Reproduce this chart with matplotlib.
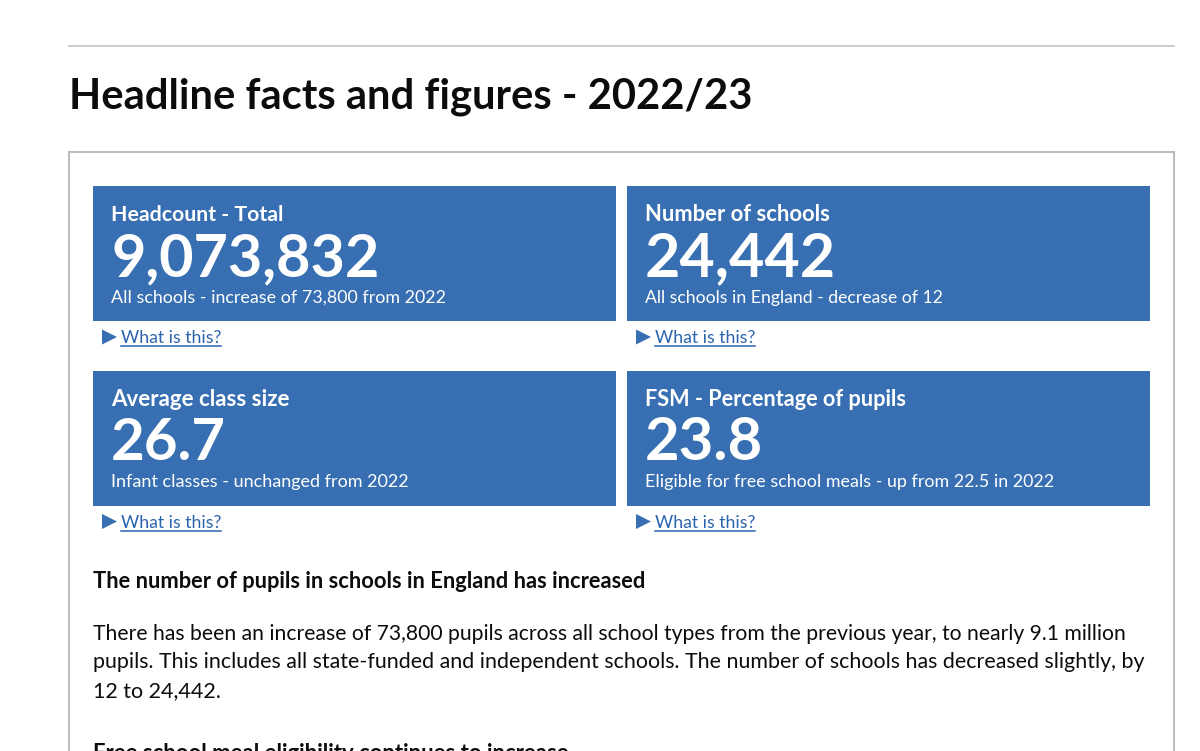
import matplotlib.pyplot as plt
from matplotlib.patches import Rectangle, Polygon

plt.rcParams["font.family"] = ["Lato", "DejaVu Sans"]

card_titles = ["Headcount - Total", "Number of schools", "Average class size", "FSM - Percentage of pupils"]
card_values = ["9,073,832", "24,442", "26.7", "23.8"]
card_notes = [
    "All schools - increase of 73,800 from 2022",
    "All schools in England - decrease of 12",
    "Infant classes - unchanged from 2022",
    "Eligible for free school meals - up from 22.5 in 2022",
]
link_text = "What is this?"
page_title = "Headline facts and figures - 2022/23"
heading_1 = "The number of pupils in schools in England has increased"
body_lines = [
    "There has been an increase of 73,800 pupils across all school types from the previous year, to nearly 9.1 million",
    "pupils. This includes all state-funded and independent schools. The number of schools has decreased slightly, by",
    "12 to 24,442.",
]
heading_2 = "Free school meal eligibility continues to increase"

BLUE = "#376fb2"
LINK = "#2a64ad"
INK = "#0b0c0c"

fig = plt.figure(figsize=(12, 7.51), dpi=100)
ax = fig.add_axes([0, 0, 1, 1])
ax.set_xlim(0, 1200)
ax.set_ylim(751, 0)
ax.axis("off")


def put(x, y, s, px, width=None, **kw):
    # y is the text baseline, px is the font size in pixels, width squeezes to the reference width
    t = ax.text(x, y, s, fontsize=px * 0.72, va="baseline", ha="left", **kw)
    if width is not None:
        bb = t.get_window_extent(fig.canvas.get_renderer())
        t.set_fontsize(px * 0.72 * width / bb.width)
    return t


# page furniture
ax.plot([69, 1174], [46, 46], color="#c4c4c4", lw=1.2)
ax.add_patch(Rectangle((69, 151.5), 1105, 640, fc="white", ec="#bdbdbd", lw=1.5))
put(69, 108, page_title, 43, width=684, fontweight="bold", color=INK)

# cards
xs = [93, 627, 93, 627]
ys = [186, 186, 370.5, 370.5]
title_w = [173, 185, 178, 261]
value_w = [269, 191, 115, 118]
note_w = [335, 298, 298, 407]
for i in range(len(card_titles)):
    x, y = xs[i], ys[i]
    ax.add_patch(Rectangle((x, y), 523, 135, fc=BLUE, ec="none"))
    put(x + 18, y + 35, card_titles[i], 21, width=title_w[i], fontweight="bold", color="white")
    put(x + 18, y + 90, card_values[i], 58, width=value_w[i], fontweight="bold", color="white")
    put(x + 18, y + 117, card_notes[i], 18, width=note_w[i], color="white")
    ax.add_patch(Polygon([[x + 9, y + 143.5], [x + 24, y + 151], [x + 9, y + 158.5]], fc=BLUE, ec="none"))
    put(x + 28, y + 157, link_text, 18, width=100, color=LINK)
    ax.plot([x + 28, x + 127.5], [y + 160, y + 160], color=LINK, lw=1.1)

# body copy
put(93, 588, heading_1, 21, width=553, fontweight="bold", color=INK)
body_w = [1030, 1046, 128]
for s, yy, w in zip(body_lines, [640, 668.5, 697], body_w):
    put(93, yy, s, 21, width=w, color=INK)
put(93, 760, heading_2, 21, width=476, fontweight="bold", color=INK)

fig.savefig("out.png", dpi=100)
plt.close()
